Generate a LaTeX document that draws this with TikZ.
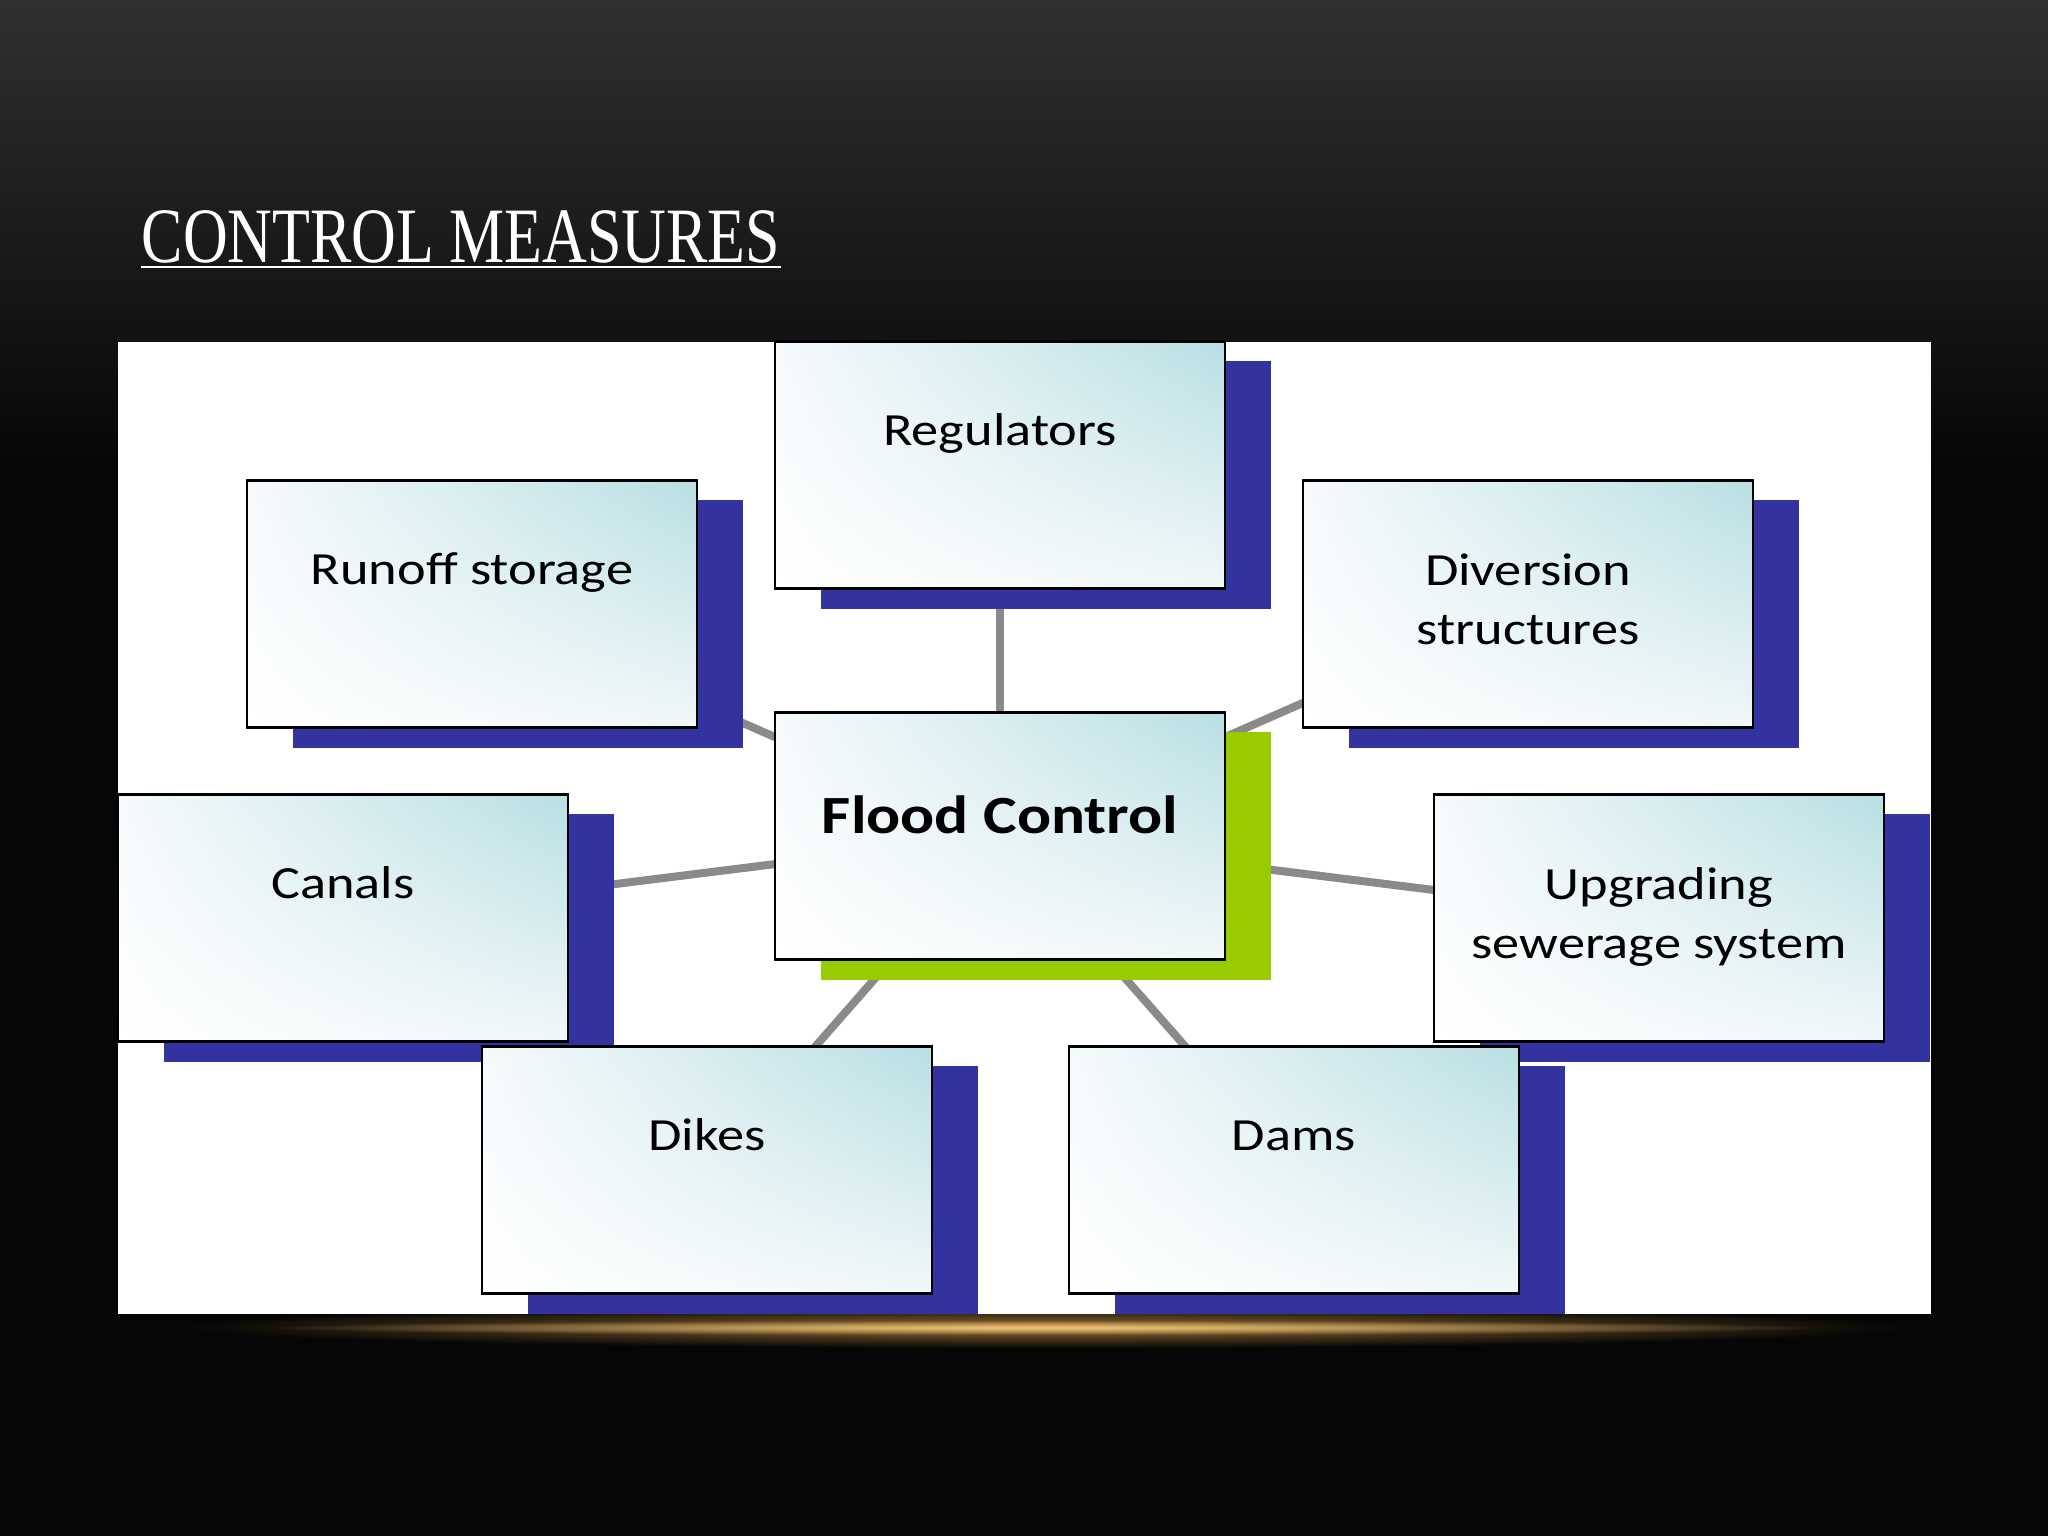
\documentclass[tikz,border=0pt]{standalone}
\usepackage{fontspec}
\newfontfamily\boxfont[FakeStretch=1.18]{Carlito}
\newfontfamily\titlefont[FakeStretch=0.79]{Liberation Serif}
\usetikzlibrary{shadows,fadings,shadings}
\definecolor{sblue}{RGB}{51,51,160}
\definecolor{sgreen}{RGB}{153,204,0}
\definecolor{cgray}{RGB}{138,138,138}
\definecolor{tealc}{RGB}{184,223,227}
\definecolor{tealpale}{RGB}{240,247,249}
\definecolor{tealfaint}{RGB}{246,250,252}
\definecolor{glowc}{RGB}{240,196,120}
\definecolor{glowd}{RGB}{150,110,50}
\definecolor{bgdark}{RGB}{6,6,6}
\pgfdeclarelayer{bg}
\pgfdeclarelayer{edges}
\pgfsetlayers{bg,edges,main}
\tikzfading[name=fuzzyglow, inner color=transparent!0, outer color=transparent!100]
\begin{document}
\begin{tikzpicture}[x=0.01cm,y=-0.01cm,
  box/.style={draw=black, line width=0.75pt, minimum width=4.5cm, minimum height=2.47cm,
    inner sep=0pt, upper left=tealfaint, upper right=tealc, lower left=white, lower right=tealpale,
    drop shadow={shadow xshift=0.46cm, shadow yshift=-0.2cm, fill=sblue, opacity=1}},
  hubbox/.style={draw=black, line width=0.75pt, minimum width=4.5cm, minimum height=2.47cm,
    inner sep=0pt, upper left=tealfaint, upper right=tealc, lower left=white, lower right=tealpale,
    drop shadow={shadow xshift=0.46cm, shadow yshift=-0.2cm, fill=sgreen, opacity=1}},
  lbl/.style={font=\boxfont\fontsize{13.1}{16.8}\selectfont, align=center, anchor=base, inner sep=0pt, text=black},
  hublbl/.style={lbl, font=\boxfont\bfseries\fontsize{15.3}{18}\selectfont},
  conn/.style={draw=cgray, line width=0.08cm}
]
\useasboundingbox (0,0) rectangle (2048,1536);
\begin{pgfonlayer}{bg}
  \fill[bgdark] (0,0) rectangle (2048,1536);
  \shade[top color={rgb,255:red,48;green,48;blue,48}, bottom color=bgdark] (0,0) rectangle (2048,470);
  % glow line
  \fill[glowd, path fading=fuzzyglow] (180,1306) rectangle (1910,1348);
  \fill[glowc, path fading=fuzzyglow] (260,1320) rectangle (1830,1335);
  \fill[white] (117.5,342) rectangle (1930.5,1314);
\end{pgfonlayer}

\node[anchor=base west, inner sep=0pt, text=white, font=\titlefont\fontsize{22.3}{26}\selectfont] (title) at (141,262) {CONTROL MEASURES};
\draw[white, line width=0.8pt] ([yshift=-0.05cm]title.base west) -- ([yshift=-0.05cm]title.base east);

\node[box] (reg) at (1000,465) {};
\node[box] (run) at (472,604) {};
\node[box] (div) at (1528,604) {};
\node[hubbox] (fc) at (1000,836) {};
\node[box] (can) at (343,918) {};
\node[box] (upg) at (1659,918) {};
\node[box] (dik) at (707,1170) {};
\node[box] (dam) at (1294,1170) {};

\begin{pgfonlayer}{edges}
  \foreach \n in {reg,run,div,can,upg,dik,dam} \draw[conn] (fc.center) -- (\n.center);
\end{pgfonlayer}

\node[lbl] (reg-t) at ([yshift=-1.05cm]reg.north) {Regulators};
\node[lbl] (run-t) at ([yshift=-1.05cm]run.north) {Runoff storage};
\node[lbl] (div-t) at ([yshift=-1.65cm]div.north) {Diversion\\structures};
\node[hublbl] (fc-t) at ([yshift=-1.22cm]fc.north) {Flood Control};
\node[lbl] (can-t) at ([yshift=-1.05cm]can.north) {Canals};
\node[lbl] (upg-t) at ([yshift=-1.65cm]upg.north) {Upgrading\\sewerage system};
\node[lbl] (dik-t) at ([yshift=-1.05cm]dik.north) {Dikes};
\node[lbl] (dam-t) at ([yshift=-1.05cm]dam.north) {Dams};
\end{tikzpicture}
\end{document}
